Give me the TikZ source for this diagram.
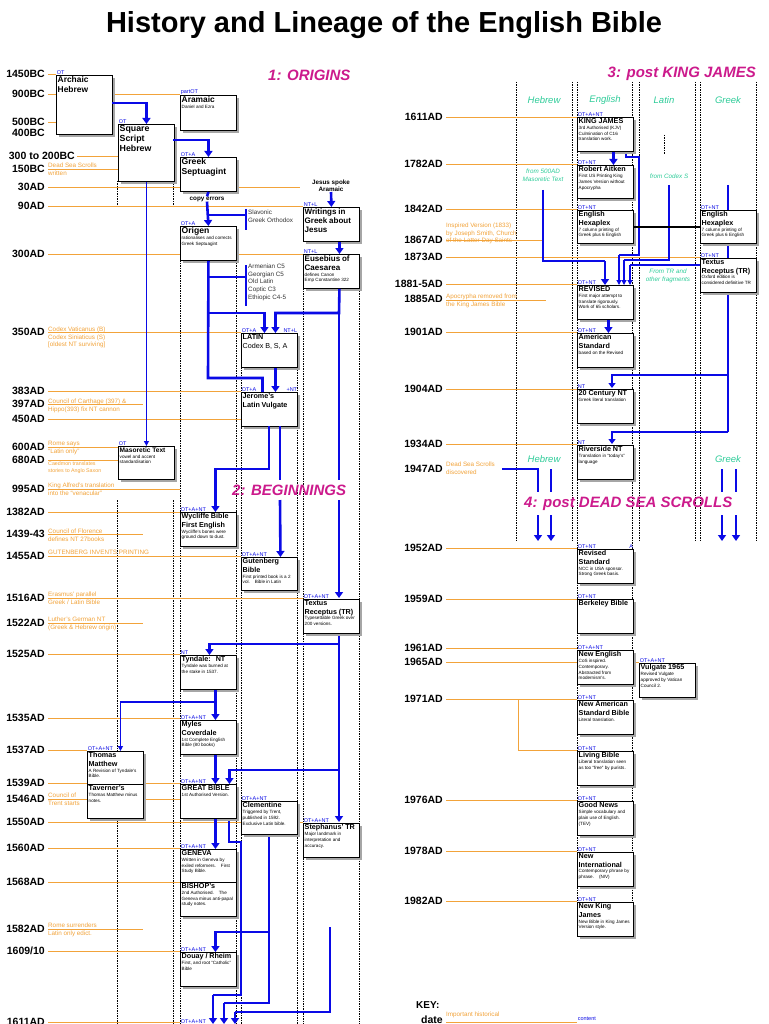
\documentclass[tikz,border=0pt]{standalone}
\usepackage{fontspec}
\setmainfont{Liberation Sans}
\usetikzlibrary{shadows,arrows.meta}
\definecolor{bl}{HTML}{0A0AE6}
\definecolor{org}{HTML}{F2A33A}
\definecolor{mag}{HTML}{CC1A8C}
\definecolor{tea}{HTML}{2ECC99}
\tikzset{
 box/.style={draw=black,line width=0.9pt,fill=white,minimum width=56pt,inner sep=0pt,drop shadow={shadow xshift=2.5pt,shadow yshift=-2.5pt,fill=gray!70,opacity=1}},
 lab/.style={text=bl,font=\fontsize{5.5}{6}\selectfont,inner sep=0.6pt},
 date/.style={font=\fontsize{10.5}{11}\selectfont\bfseries,anchor=east,inner sep=0pt},
 ol/.style={org,line width=0.9pt},
 note/.style={text=org,font=\fontsize{6.3}{7.6}\selectfont,align=left,anchor=north west,inner sep=0pt},
 tnote/.style={text=tea,font=\fontsize{6.3}{7.6}\itshape,align=center,inner sep=0pt},
 ar/.style={bl,line width=2.6pt,-{Triangle[length=6pt,width=8pt]}},
 ln/.style={bl,line width=2.6pt},
 thn/.style={bl,line width=1.3pt},
 tar/.style={bl,line width=1.3pt,-{Triangle[length=5pt,width=5pt]}},
 dsh/.style={black,line width=0.7pt,dash pattern=on 1.5pt off 1pt},
 sec/.style={text=mag,font=\fontsize{15}{16}\bfseries\itshape,inner sep=0pt},
 hd/.style={text=tea,font=\fontsize{9.5}{10}\itshape,inner sep=0pt},
 lst/.style={font=\fontsize{6.3}{7.6}\selectfont,align=left,anchor=north west,inner sep=0pt,text=black!80}
}
\newcommand\ttl{\fontsize{7.2}{8.6}\selectfont\bfseries\spaceskip=0.25em plus 0.3em\relax}
\newcommand\nts{\fontsize{4.6}{5.7}\selectfont\spaceskip=0.28em plus 0.3em\relax}
% name x y h label title notes
\newcommand\bx[7]{%
 \node[box,minimum height=#4pt,anchor=north west] (#1) at (#2,#3) {};
 \node[anchor=north west,text width=53pt,inner sep=1.5pt] at (#1.north west) {\raggedright{\ttl #6\par}{\nts #7\par}};
 \node[lab,anchor=south west] at (#1.north west) {#5};}
\begin{document}
\begin{tikzpicture}[x=1pt,y=-1pt]
\useasboundingbox[fill=white] (0,0) rectangle (768,1024);
\node[font=\fontsize{29}{30}\bfseries] (title) at (384,25) {History and Lineage of the English Bible};
% dashed columns
\foreach \x in {117,173}{\draw[dsh] (\x,181)--(\x,208); \draw[dsh] (\x,500)--(\x,1024);}
\foreach \x in {180,236}{\draw[dsh] (\x,260)--(\x,1024);}
\foreach \x in {241,297}{\draw[dsh] (\x,367)--(\x,1024);}
\foreach \x in {303,359}{\draw[dsh] (\x,288)--(\x,1024);}
\foreach \x in {516,572,639,695,700,756}{\draw[dsh] (\x,82)--(\x,540);}
\foreach \x in {577,632}{\draw[dsh] (\x,82)--(\x,935);}
\draw[dsh] (664,135)--(664,155);
% section titles
\node[sec,anchor=west] (s1) at (268,75) {1: ORIGINS};
\node[sec,anchor=east] (s3) at (756,74) {3: post KING JAMES};
\node[sec,anchor=west] (s2) at (232,490) {2: BEGINNINGS};
\node[sec,anchor=west] (s4) at (524,504) {4: post DEAD SEA SCROLLS};
\foreach \t/\x in {Hebrew/544,English/605,Latin/664,Greek/728}{\node[hd,fill=white,inner sep=1pt] at (\x,100) {\t};}
\node[hd] (hh) at (544,459) {Hebrew};
\node[hd] (hg) at (728,459) {Greek};
% left dates
\foreach \d/\y/\e in {1450BC/74/56,900BC/94/180,500BC/122/56,150BC/169/118,30AD/187/300,90AD/206/303,300AD/254/303,350AD/332/241,383AD/391/241,397AD/404/143,450AD/419/241,600AD/447/118,680AD/460/118,995AD/489/180,1382AD/512/180,1439-43/534/143,1455AD/556/241,1516AD/598/303,1522AD/623/143,1525AD/654/180,1535AD/718/180,1537AD/750/87,1539AD/783/180,1546AD/799/180,1550AD/822/303,1560AD/848/180,1568AD/882/180,1582AD/929/143,1611AD/1022/180}{
 \draw[ol] (48,\y)--(\e,\y); \node[date] at (45,\y) {\d};}
\draw[ol] (48,951)--(180,951); \node[date] at (45,951) {1609{/}10};
\node[date] at (45,133) {400BC};
\draw[ol] (77,156)--(118,156); \node[date] at (75,156) {300 to 200BC};
% right dates
\foreach \d/\y in {1611AD/117,1782AD/164,1842AD/209,1867AD/240,1873AD/257,1881-5AD/284,1885AD/299,1901AD/332,1904AD/389,1934AD/444,1947AD/469,1952AD/548,1959AD/599,1961AD/648,1965AD/662,1971AD/699,1976AD/800,1978AD/851,1982AD/901}{
 \node[date] at (443,\y) {\d};}
\foreach \y/\e in {117/577,164/577,209/577,240/543,257/700,284/577,332/577,389/577,444/577,548/577,599/577,648/577,662/639,699/577,800/577,851/577,901/577}{\draw[ol] (446,\y)--(\e,\y);}
\draw[ol] (446,300)--(546,300);
\draw[ol] (518,699)--(518,750)--(577,750);
% orange notes left
\node[note] at (48,163) {Dead Sea Scrolls\\written};
\node[note] at (48,327) {Codex Vaticanus (B)\\Codex Siniaticus (S)\\{[oldest NT surviving]}};
\node[note] at (48,399) {Council of Carthage (397) \&\\Hippo(393) fix NT cannon};
\node[note] at (48,441) {Rome says\\``Latin only''};
\node[note,font=\fontsize{5.3}{7}\selectfont] at (48,461) {Caedmon translates\\stories to Anglo Saxon};
\node[note] at (48,483) {King Alfred's translation\\into the ``venacular''};
\node[note] at (48,529) {Council of Florence\\defines NT 27books};
\node[note] at (48,550) {GUTENBERG INVENTS PRINTING};
\node[note] at (48,592) {Erasmus' parallel\\Greek / Latin Bible};
\node[note] at (48,617) {Luther's German NT\\(Greek \& Hebrew origin)};
\node[note] at (48,793) {Council of\\Trent starts};
\node[note] at (48,923) {Rome surrenders\\Latin only edict.};
% orange notes right
\node[note] at (446,223) {Inspired Version (1833)\\by Joseph Smith, Church\\of the Latter Day Saints};
\node[note] at (446,294) {Apocrypha removed from\\the King James Bible};
\node[note] at (446,462) {Dead Sea Scrolls\\discovered};
\node[tnote] at (543,175) {from 500AD\\Masoretic Text};
\node[tnote] at (669,176) {from Codex S};
\node[tnote] at (668,276) {From TR and\\other fragments};
% lists
\node[lst] (slav) at (248,210) {Slavonic\\Greek Orthodox};
\node[lst] (arm) at (248,264) {Armenian C5\\Georgian C5\\Old Latin\\Coptic C3\\Ethiopic C4-5};
\node[font=\fontsize{6.3}{7}\bfseries,align=center,inner sep=0pt] (jesus) at (331,186) {Jesus spoke\\Aramaic};
\node[font=\fontsize{6.3}{7}\bfseries,inner sep=0pt,fill=white] (copy) at (207,199) {copy errors};
% background lines (behind boxes)
\draw[ln] (339,313)--(339,480); \draw[ar] (339,500)--(339,598);
\draw[ln] (339,633)--(339,644); \draw[ar] (339,644)--(339,822);
\draw[bl,line width=1.6pt] (728,185)--(728,432);
\draw[bl,line width=1.6pt,-{Triangle[length=5pt,width=7pt]}] (728,375)-|(612,388);
\draw[bl,line width=1.6pt,-{Triangle[length=5pt,width=7pt]}] (728,432)-|(612,444);
\draw[thn] (229,818)--(229,842)--(241,842)--(241,995)--(213,995);
\draw[ar] (213,995)--(213,1024);
\draw[thn] (269,834)--(269,932);
\draw[ln] (269,932)--(269,1003)--(224,1003); \draw[ar] (224,1003)--(224,1024);
\draw[ln] (330,927)--(330,1012)--(235,1012); \draw[ar] (235,1012)--(235,1024);
\draw[thn] (626,151)--(626,157)--(639,157)--(639,255)--(619,255);
\draw[tar] (619,255)--(619,285);
\draw[thn] (669,185)--(669,260)--(624,260); \draw[tar] (624,260)--(624,285);
\draw[thn] (700,265)--(630,265); \draw[tar] (630,265)--(630,285);
\draw[ln] (543,190)--(543,261)--(605,261); \draw[ar] (605,261)--(605,285);
% boxes left
\bx{arch}{56}{75}{59}{OT}{\fontsize{8.4}{9.6}\selectfont Archaic\\Hebrew}{}
\bx{aram}{180}{95}{35}{partOT}{\fontsize{8.4}{9.6}\selectfont Aramaic}{Daniel and Ezra}
\bx{sq}{118}{124}{57}{OT}{\fontsize{8.8}{10}\selectfont Square\\Script\\Hebrew}{}
\bx{sept}{180}{157}{34}{OT+A}{\fontsize{8.6}{9.6}\selectfont Greek\\Septuagint}{}
\bx{ori}{180}{226}{34}{OT+A}{\fontsize{8.6}{9.6}\selectfont Origen}{rationalises and corrects Greek Septuagint}
\bx{wri}{303}{207}{34}{NT+L}{\fontsize{8}{9}\selectfont Writings in Greek about Jesus}{}
\bx{eus}{303}{254}{34}{NT+L}{\fontsize{8}{9}\selectfont Eusebius of Caesarea}{defines Canon\\Emp Constantine 322}
\bx{lat}{241}{333}{34}{OT+A}{LATIN\\{\mdseries Codex B, S, A}}{}
\node[lab,anchor=south east] at (lat.north east) {NT+L};
\bx{jer}{241}{392}{34}{OT+A}{Jerome's\\Latin Vulgate}{}
\node[lab,anchor=south east] at (jer.north east) {+NT};
\bx{mas}{118}{446}{33}{OT}{\fontsize{6.6}{8}\selectfont Masoretic Text}{vowel and accent standardisation}
\bx{wyc}{180}{512}{34}{OT+A+NT}{Wycliffe Bible First English}{Wycliffe's bones were ground down to dust.}
\bx{gut}{241}{557}{33}{OT+A+NT}{Gutenberg\\Bible}{First printed book is a 2 vol. Bible in Latin}
\bx{tr}{303}{599}{34}{OT+A+NT}{Textus\\Receptus (TR)}{Typesettable Greek over 200 versions.}
\bx{tyn}{180}{655}{34}{NT}{Tyndale: NT}{Tyndale was burned at the stake in 1537.}
\bx{myl}{180}{720}{34}{OT+A+NT}{Myles\\Coverdale}{1st Complete English Bible (80 books)}
\bx{tm}{87}{751}{33}{OT+A+NT}{Thomas\\Matthew}{A Revision of Tyndale's Bible.}
\bx{tav}{87}{784}{34}{}{Taverner's}{Thomas Matthew minus notes.}
\bx{great}{180}{784}{34}{OT+A+NT}{GREAT BIBLE}{1st Authorised Version.}
\bx{clem}{241}{801}{33}{OT+A+NT}{Clementine}{Triggered by Trent, published in 1592. Exclusive Latin bible.}
\bx{steph}{303}{823}{34}{OT+A+NT}{Stephanus' TR}{Major landmark in interpretation and accuracy.}
\bx{gen}{180}{849}{33}{OT+A+NT}{GENEVA}{Written in Geneva by exiled reformers. First Study Bible.}
\bx{bish}{180}{882}{34}{}{BISHOP's}{2nd Authorised. The Geneva minus anti-papal study notes.}
\bx{dou}{180}{952}{34}{OT+A+NT}{Douay / Rheim}{First, and root ``Catholic'' Bible}
\node[lab,anchor=south west] at (180,1024) {OT+A+NT};
% boxes right
\bx{kj}{577}{117}{34}{OT+A+NT}{KING JAMES}{3rd Authorised (KJV) Culmination of C16 translation work.}
\bx{ait}{577}{165}{33}{OT+NT}{Robert Aitken}{First US Printing King James Version without Apocrypha}
\bx{eh}{577}{210}{33}{OT+NT}{English\\Hexaplex}{7 column printing of Greek plus 6 English}
\bx{gh}{700}{210}{33}{OT+NT}{English\\Hexaplex}{7 column printing of Greek plus 6 English}
\bx{tr2}{700}{258}{34}{OT+NT}{Textus\\Receptus (TR)}{Oxford edition is considered definitive TR}
\bx{rev}{577}{285}{34}{OT+NT}{REVISED}{First major attempt to translate rigorously. Work of 65 scholars.}
\bx{ams}{577}{333}{34}{OT+NT}{American\\Standard}{based on the Revised}
\bx{tc}{577}{389}{34}{NT}{20 Century NT}{Greek literal translation}
\bx{riv}{577}{445}{34}{NT}{Riverside NT}{Translation in ``today's'' language}
\bx{rsv}{577}{549}{34}{OT+NT}{Revised\\Standard}{NCC in USA sponsor. Strong Greek basis.}
\node[lab,anchor=south east] at (rsv.north east) {A};
\bx{berk}{577}{599}{34}{OT+NT}{Berkeley Bible}{}
\bx{neb}{577}{650}{34}{OT+A+NT}{New English}{CoS inspired. Contemporary. Abstracted from modernism's.}
\bx{vul}{639}{663}{34}{OT+A+NT}{Vulgate 1965}{Revised Vulgate approved by Vatican Council 2.}
\bx{nas}{577}{700}{34}{OT+NT}{New American\\Standard Bible}{Literal translation.}
\bx{liv}{577}{751}{34}{OT+NT}{Living Bible}{Liberal translation seen as too ``free'' by purists.}
\bx{gn}{577}{801}{34}{OT+NT}{Good News}{Simple vocabulary and plain use of English. (TEV)}
\bx{niv}{577}{852}{34}{OT+NT}{New\\International}{Contemporary phrase by phrase. (NIV)}
\bx{nkj}{577}{902}{34}{OT+NT}{New King\\James}{New Bible in King James Version style.}
% connectors
\draw[ar] (112,103) -| (sq.north);
\draw[ar] (173,140) -| (sept.north);
\draw[tar] (sq.south) -- (mas.north);
\draw[ln] (sept.south) -- (copy.north); \draw[ar] (copy.south) -- (ori.north);
\draw[thn] (208,215)--(245,215); \draw[thn] (246,209)--(246,230);
\draw[ar] (jesus.south) -- (wri.north);
\draw[ar] ([xshift=8pt]wri.south) -- ([xshift=8pt]eus.north);
\draw[ln] (ori.south) -- (208,378) -| ([xshift=-7pt]jer.north);
\draw[thn] (208,277)--(245,277); \draw[thn] (246,265)--(246,306);
\draw[ar] (208,313) -| ([xshift=-5pt]lat.north);
\draw[ar] ([xshift=8pt]eus.south) -- (339,313) -| ([xshift=6pt]lat.north);
\draw[ar] ([xshift=6pt]lat.south) -- ([xshift=6pt]jer.north);
\draw[ar] (269,426) -- (269,469) -| ([xshift=7pt]wyc.north);
\draw[ln] (280,426)--(280,480); \draw[ar] (280,500) -- ([xshift=11pt]gut.north);
\draw[ar] (339,644) -| ([xshift=1pt]tyn.north);
\draw[ar] ([xshift=7pt]tyn.south) -- ([xshift=7pt]myl.north);
\draw[tar] (215,702) -| ([xshift=5pt]tm.north);
\draw[ar] ([xshift=7pt]myl.south) -- ([xshift=7pt]great.north);
\draw[ar] (339,770) -| ([xshift=21pt]great.north);
\draw[ar] ([xshift=7pt]great.south) -- ([xshift=7pt]gen.north);
\draw[ar] (269,932) -| ([xshift=7pt]dou.north);
\draw[ar] ([xshift=8pt]kj.south) -- ([xshift=8pt]ait.north);
\draw[ar] ([xshift=3pt]rev.south) -- ([xshift=3pt]ams.north);
\draw[black,line width=2.4pt] (eh.east) -- (gh.west);
\draw[ln] (502,469)--(538,469)--(538,492); \draw[ln] (551,469)--(551,492);
\draw[ln] (722,469)--(722,492); \draw[ln] (736,469)--(736,492);
\foreach \x in {538,551,722,736}{\draw[ar] (\x,515)--(\x,541);}
% key
\node[font=\fontsize{10}{11}\bfseries,inner sep=0pt,anchor=west] (key) at (416,1005) {KEY:};
\node[date] at (443,1020) {date};
\draw[ol] (446,1022)--(577,1022);
\node[note] at (446,1012) {Important historical};
\node[lab,anchor=south west] at (577,1021) {content};
\end{tikzpicture}
\end{document}
